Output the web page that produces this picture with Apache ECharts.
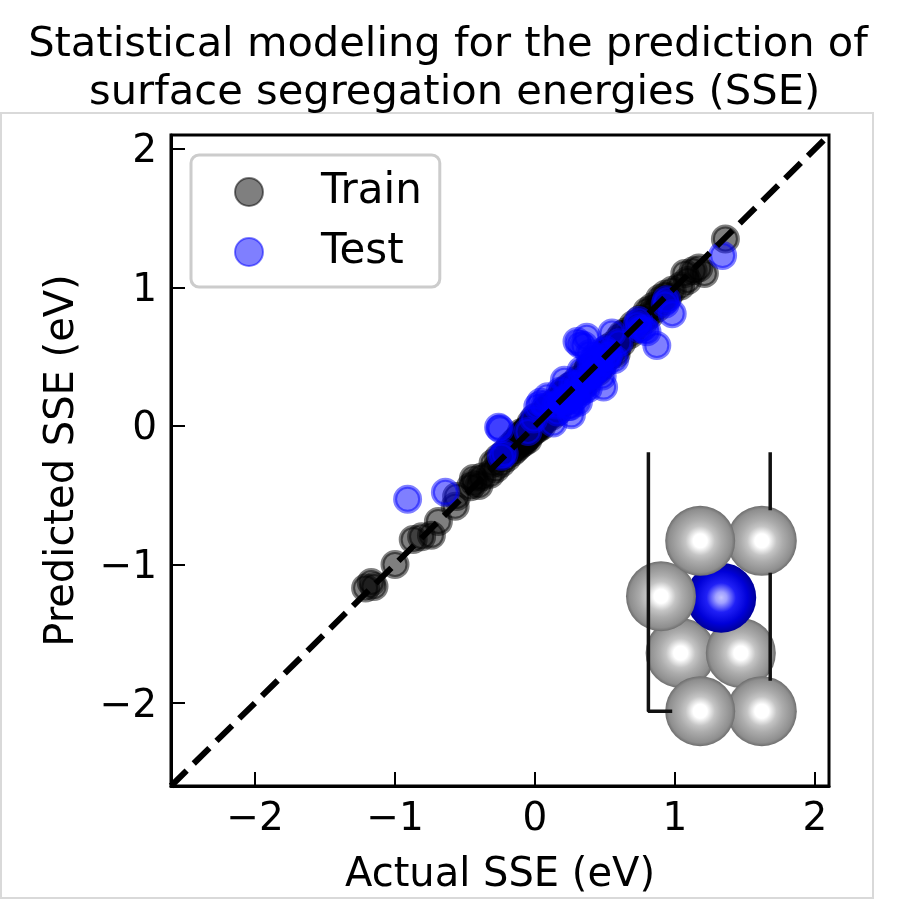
<!DOCTYPE html>
<html><head><meta charset="utf-8">
<style>html,body{margin:0;padding:0;background:#fff}#c{width:902px;height:900px}</style>
<script src="https://cdn.jsdelivr.net/npm/echarts@6/dist/echarts.min.js"></script>
</head><body><div id="c"></div>
<script>
const titleText = "Statistical modeling for the prediction of\n surface segregation energies (SSE)";
const xName = "Actual SSE (eV)";
const yName = "Predicted SSE (eV)";
const tickValues = [-2,-1,0,1,2];

const trainActual = [1.36,1.21,1.17,1.13,1.09,1.07,1.04,0.98,0.95,0.93,0.91,0.89,0.87,0.84,0.82,0.80,0.78,0.75,0.72,0.70,0.68,0.65,0.62,0.60,0.58,0.55,0.53,0.50,0.48,0.46,0.44,0.42,0.40,0.38,0.36,0.34,0.32,0.30,0.28,0.26,0.24,0.22,0.20,0.18,0.16,0.14,0.12,0.10,0.09,0.07,0.06,0.05,0.04,0.03,0.02,0.01,0.00,-0.01,-0.02,-0.03,-0.04,-0.05,-0.06,-0.07,-0.08,-0.09,-0.10,-0.11,-0.12,-0.13,-0.14,-0.15,-0.16,-0.18,-0.20,-0.22,-0.24,-0.26,-0.28,-0.30,-0.32,-0.38,-0.40,-0.43,-0.44,-0.46,-0.57,-0.56,-0.69,-0.74,-0.81,-0.87,-1.00,-1.15,-1.17,-1.21,0.58,0.52,0.45,0.38,0.30,0.24,0.16,0.10,0.05,0.00,-0.05,-0.10,0.62,0.48,0.36,0.26,0.20,0.12,0.07,0.02,-0.03,-0.08];
const trainPredicted = [1.35,1.10,1.14,1.12,1.05,1.10,1.01,0.98,0.93,0.95,0.90,0.92,0.85,0.86,0.80,0.83,0.76,0.77,0.70,0.73,0.66,0.68,0.60,0.63,0.55,0.58,0.50,0.53,0.45,0.49,0.41,0.45,0.37,0.41,0.33,0.37,0.29,0.33,0.25,0.29,0.21,0.25,0.17,0.21,0.13,0.17,0.10,0.13,0.06,0.10,0.03,0.07,0.01,0.05,-0.01,0.03,-0.03,0.02,-0.05,0.00,-0.07,-0.02,-0.09,-0.04,-0.11,-0.06,-0.13,-0.08,-0.15,-0.10,-0.17,-0.12,-0.19,-0.15,-0.23,-0.20,-0.27,-0.23,-0.31,-0.27,-0.35,-0.37,-0.43,-0.41,-0.38,-0.44,-0.58,-0.51,-0.69,-0.79,-0.80,-0.82,-1.00,-1.16,-1.13,-1.17,0.52,0.56,0.39,0.42,0.24,0.28,0.10,0.14,0.00,0.06,-0.10,-0.05,0.66,0.43,0.30,0.21,0.25,0.07,0.12,-0.02,0.02,-0.12];

const testActual = [-0.91,-0.64,-0.26,-0.25,-0.24,-0.22,-0.05,-0.01,0.02,0.04,0.07,0.09,0.13,0.15,0.18,0.21,0.23,0.26,0.27,0.30,0.30,0.33,0.35,0.37,0.37,0.40,0.43,0.46,0.49,0.50,0.52,0.55,0.57,0.60,0.73,0.75,0.78,0.80,0.87,0.94,0.98,1.34,0.16,0.19,0.22,0.24,0.27,0.29,0.31,0.34,0.36,0.38,0.41,0.42,0.44,0.47,0.48,0.51,0.53,0.32,0.25,0.31,0.39,0.93,0.74];
const testPredicted = [-0.53,-0.48,-0.01,-0.02,-0.22,-0.20,-0.04,0.05,0.14,0.17,0.15,0.21,0.02,0.15,0.25,0.33,0.18,0.08,0.30,0.61,0.22,0.40,0.58,0.64,0.30,0.45,0.50,0.42,0.28,0.55,0.50,0.67,0.48,0.60,0.73,0.70,0.70,0.68,0.58,0.91,0.81,1.23,0.10,0.18,0.20,0.14,0.24,0.19,0.30,0.25,0.34,0.27,0.37,0.44,0.40,0.48,0.36,0.46,0.52,0.59,0.14,0.17,0.52,0.88,0.76];

const atomOrderX = [1.04,1.47,1.33,0.90,1.62,1.18,1.62,1.18];
const atomOrderY = [-1.64,-1.64,-1.24,-1.23,-0.83,-0.83,-2.06,-2.06];
const atomKinds = ["grey","grey","blue","grey","grey","grey","grey","grey"];
const cellLeftX = [0.81,0.81,0.98];
const cellLeftY = [-0.19,-2.06,-2.06];
const cellRightTopX = [1.68,1.68];
const cellRightTopY = [-0.19,-0.61];
const cellRightLowX = [1.68,1.68];
const cellRightLowY = [-1.06,-1.84];

const refLine = [[-2.6,-2.6],[2.1,2.1]];
const zip = (a,b)=>a.map((v,i)=>[v,b[i]]);
const minusFmt = v => String(v).replace('-','\u2212');

const greyBall = {type:'radial',x:.5,y:.5,r:.5,colorStops:[
  {offset:0,color:'#ffffff'},{offset:.2,color:'#ffffff'},{offset:.42,color:'#c4c4c4'},
  {offset:.6,color:'#acacac'},{offset:.9,color:'#8e8e8e'},{offset:1,color:'#6e6e6e'}]};
const blueBall = {type:'radial',x:.5,y:.5,r:.5,colorStops:[
  {offset:0,color:'#c4c4ff'},{offset:.16,color:'#a0a0ff'},{offset:.42,color:'#2020f6'},
  {offset:.75,color:'#0000d8'},{offset:1,color:'#00009a'}]};

const font = '"DejaVu Sans"';
const axisCommon = {
  type:'value', min:-2.6, max:2.1, splitLine:{show:false},
  nameLocation:'middle',
  nameTextStyle:{fontFamily:font,fontSize:40,color:'#000'},
  axisLine:{show:true,onZero:false,lineStyle:{color:'#000',width:3}},
  axisTick:{show:true,inside:true,length:14,lineStyle:{color:'#000',width:2},customValues:tickValues},
  axisLabel:{show:true,fontFamily:font,fontSize:39,color:'#000',margin:14,customValues:tickValues,formatter:minusFmt}
};
const cellStyle = {color:'#111',width:3.5};
const cellLine = (x,y)=>({type:'line',data:zip(x,y),symbol:'none',silent:true,z:8,lineStyle:cellStyle,legendHoverLink:false});

const chart = echarts.init(document.getElementById('c'),null,{renderer:'canvas'});
chart.setOption({
  animation:false,
  backgroundColor:'#fff',
  title:{text:titleText,left:448,top:21,padding:0,textAlign:'center',
    textStyle:{fontFamily:font,fontSize:41.6,fontWeight:'normal',color:'#000',lineHeight:48}},
  graphic:[{type:'rect',z:-1,shape:{x:1,y:113,width:872,height:785},style:{fill:'#fff',stroke:'#d9d9d9',lineWidth:2},silent:true}],
  grid:{left:171,top:135,width:658,height:651,show:true,borderColor:'#000',borderWidth:3,backgroundColor:'transparent',containLabel:false,outerBoundsMode:'none'},
  xAxis:Object.assign({},axisCommon,{name:xName,nameGap:70,position:'bottom'}),
  yAxis:Object.assign({},axisCommon,{name:yName,nameGap:88,position:'left',
    axisLabel:Object.assign({},axisCommon.axisLabel,{
      formatter:v=>'{a|'+minusFmt(v)+'}',
      rich:{a:{fontFamily:font,fontSize:39,color:'#000',padding:[7,0,0,0]}}})}),
  legend:{show:true,left:191,top:155,orient:'vertical',data:['Train','Test'],
    backgroundColor:'#fff',borderColor:'#cccccc',borderWidth:3,borderRadius:8,
    padding:[15,18,13,43],itemGap:16,itemWidth:28,itemHeight:28,
    textStyle:{fontFamily:font,fontSize:42,lineHeight:44,color:'#000',padding:[0,0,0,53]}},
  series:[
    {name:'Train',type:'scatter',data:zip(trainActual,trainPredicted),symbolSize:25,z:3,
      itemStyle:{color:'rgba(0,0,0,0.5)',borderColor:'rgba(0,0,0,0.5)',borderWidth:4,opacity:1}},
    {name:'Test',type:'scatter',data:zip(testActual,testPredicted),symbolSize:25,z:4,
      itemStyle:{color:'rgba(0,0,255,0.5)',borderColor:'rgba(0,0,255,0.5)',borderWidth:4,opacity:1}},
    {type:'line',data:refLine,symbol:'none',z:5,silent:true,lineStyle:{color:'#000',width:6,type:[22,10],cap:'butt'}},
    {type:'scatter',data:zip(atomOrderX,atomOrderY).map((p,i)=>({value:p,itemStyle:{color:atomKinds[i]==='blue'?blueBall:greyBall}})),
      symbolSize:70,z:6,silent:true,clip:false,itemStyle:{opacity:1}},
    cellLine(cellLeftX,cellLeftY),cellLine(cellRightTopX,cellRightTopY),cellLine(cellRightLowX,cellRightLowY)
  ]
});
</script></body></html>
